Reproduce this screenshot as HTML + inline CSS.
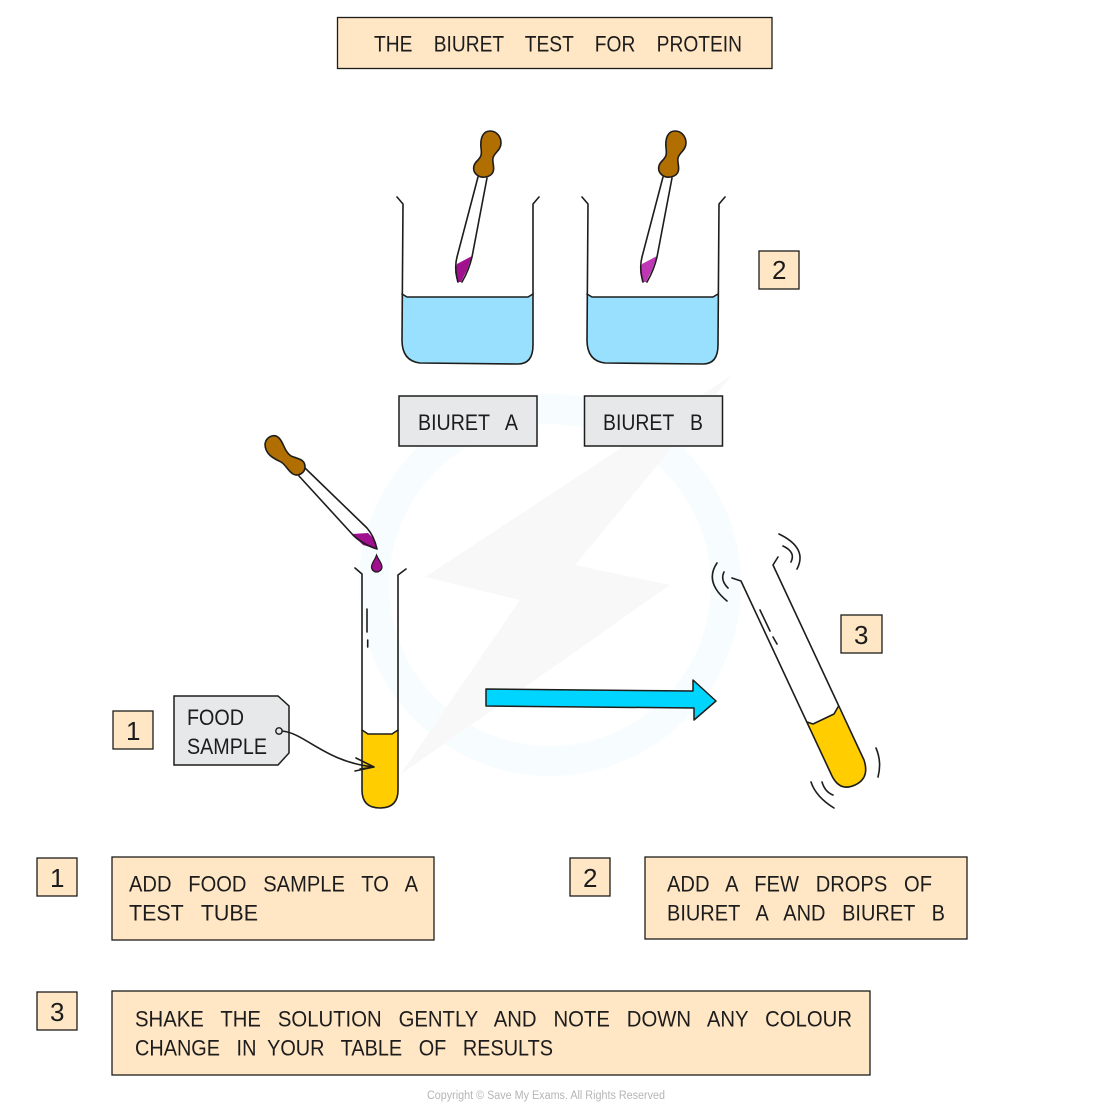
<!DOCTYPE html>
<html><head><meta charset="utf-8"><style>
html,body{margin:0;padding:0;background:#fff}
svg{display:block}
text{font-family:"Liberation Sans",sans-serif;font-size:22px;fill:#1c1c1c;white-space:pre}
.b{fill:#ffe6c5;stroke:#1d1d1b;stroke-width:1.3}
.g{fill:#e7e8e9;stroke:#1d1d1b;stroke-width:1.5}
.l{fill:none;stroke:#1d1d1b;stroke-width:1.6;stroke-linecap:round;stroke-linejoin:round}
.n{font-size:26px}
</style></head><body>
<svg width="1100" height="1116" viewBox="0 0 1100 1116" xmlns="http://www.w3.org/2000/svg">
<!-- watermark -->
<circle cx="550" cy="585" r="176" fill="none" stroke="#f7fcfe" stroke-width="30"/>
<polygon points="732,375 425,577 520,600 400,775 670,585 575,565" fill="#f8f8f8"/>

<!-- title -->
<rect class="b" x="337.500" y="17.500" width="434.500" height="51"/>
<text x="374" y="51.500" textLength="368" lengthAdjust="spacingAndGlyphs">THE    BIURET    TEST    FOR    PROTEIN</text>

<!-- beakers -->
<g>
<path d="M402,294 L407,297 L528,297 L533,294 L533,345 Q533,364 518,364 L420,363 Q402,361 402,340 Z" fill="#99e0ff"/>
<path class="l" d="M397,197 L403,204 L402,340 Q402,361 420,363 L518,364 Q533,364 533,345 L533,204 L539,197"/>
<path class="l" d="M402,294 L407,297 L528,297 L533,294"/>
<path d="M457,264 L472,256 L467,270 L461,282 L457,282 L455,272 Z" fill="#a0108f"/>
<path class="l" d="M478,177 L457,257 Q454,268 458,282 M487,178 L472,257 Q469,270 462,282"/>
<path d="M490,131 C497,131 501,137 501,143 C501,150 494,153 493,158 C492,163 495,167 493,172 C491,177 482,179 477,175 C472,171 473,165 477,161 C481,157 482,155 481,148 C480,138 483,131 490,131 Z" fill="#b06f00" stroke="#1d1d1b" stroke-width="1.600"/>
</g>
<g>
<path d="M587,294 L592,297 L713,297 L718,294 L718,345 Q718,364 703,364 L605,363 Q587,361 587,340 Z" fill="#99e0ff"/>
<path class="l" d="M582,197 L588,204 L587,340 Q587,361 605,363 L703,364 Q718,364 718,345 L719,204 L725,197"/>
<path class="l" d="M587,294 L592,297 L713,297 L718,294"/>
<path d="M642,264 L657,256 L652,270 L646,282 L642,282 L640,272 Z" fill="#c037b5"/>
<path class="l" d="M663,177 L642,257 Q639,268 643,282 M672,178 L657,257 Q654,270 647,282"/>
<path d="M675,131 C682,131 686,137 686,143 C686,150 679,153 678,158 C677,163 680,167 678,172 C676,177 667,179 662,175 C657,171 658,165 662,161 C666,157 667,155 666,148 C665,138 668,131 675,131 Z" fill="#b06f00" stroke="#1d1d1b" stroke-width="1.600"/>
</g>
<rect class="b" x="759" y="251" width="40" height="38"/>
<text class="n" x="772" y="279">2</text>

<rect class="g" x="399" y="396" width="138" height="50"/>
<text x="418" y="430" textLength="100" lengthAdjust="spacingAndGlyphs">BIURET   A</text>
<rect class="g" x="584.500" y="396" width="138" height="50"/>
<text x="603" y="430" textLength="100" lengthAdjust="spacingAndGlyphs">BIURET   B</text>

<!-- test tube 1 -->
<path d="M362,730 L368,734 L392,734 L398,730 L398,790 Q398,808 380,808 Q362,808 362,790 Z" fill="#ffcd00"/>
<path class="l" d="M355,568 L362,574 L362,790 Q362,808 380,808 Q398,808 398,790 L398,575 L406,569"/>
<path class="l" d="M362,730 L368,734 L392,734 L398,730"/>
<path d="M367,609 V632 M367.700,640 V647" class="l" stroke-width="1.200"/>

<!-- dropper 3 -->
<path d="M352,534 L368,533 L373,538 L377,549 L363,545 Z" fill="#a0108f"/>
<path class="l" d="M299,476 L353,535 Q362,544 377,549 M305,468 L367,528 Q374,536 377,549"/>
<path d="M265,444 C266,437 274,433 279,438 C284,443 284,451 291,456 C298,459 305,459 305,467 C305,473 298,477 293,474 C288,471 286,465 281,462 C275,459 265,455 265,444 Z" fill="#b06f00" stroke="#1d1d1b" stroke-width="1.600"/>
<path d="M376.500,555 C379,561 382,563 382,567 C382,570 379,572 376.500,572 C374,572 371.500,570 371.500,567 C371.500,563 375,560 376.500,555 Z" fill="#a0108f" stroke="#1d1d1b" stroke-width="1.200"/>

<!-- tag -->
<path class="g" d="M174,696 L278,696 L289,706 L289,753 L278,765 L174,765 Z"/>
<text x="187" y="725" textLength="57" lengthAdjust="spacingAndGlyphs">FOOD</text>
<text x="187" y="754" textLength="80" lengthAdjust="spacingAndGlyphs">SAMPLE</text>
<circle cx="279" cy="731" r="3.200" fill="none" stroke="#1d1d1b" stroke-width="1.400"/>
<path class="l" stroke-width="1.300" d="M282,731 C305,733 325,762 374,767 M356,758 L374,767 L355,771 M360,769 L374,767"/>
<rect class="b" x="113" y="711" width="40" height="38"/>
<text class="n" x="126" y="740">1</text>

<!-- arrow -->
<polygon points="486,689 693,691 693,680 716,701 694,720 694,708 486,706" fill="#00d5ff" stroke="#1d1d1b" stroke-width="1.500" stroke-linejoin="round"/>

<!-- tilted tube -->
<path d="M807,722 L813,724 L834,714 L838,707 L864,760 Q870,778 855,785 Q840,792 832,776 Z" fill="#ffcd00"/>
<path class="l" d="M732,578 L741,581 L832,776 Q840,792 855,785 Q870,778 864,760 L773,565 L778,557"/>
<path class="l" d="M807,722 L813,724 L834,714 L838,707"/>
<path class="l" stroke-width="1.300" d="M760,610 L770,631 M773,637 L777,644"/>
<path class="l" stroke-width="1.300" d="M717,563 Q704,582 727,601 M724,572 Q720,580 728,588 M779,534 Q808,548 797,569 M783,546 Q796,552 791,562 M876,748 Q882,762 878,777 M811,782 Q816,797 834,808 M822,782 Q825,792 833,795"/>
<rect class="b" x="841" y="615" width="41" height="38"/>
<text class="n" x="854" y="644">3</text>

<!-- steps -->
<rect class="b" x="37" y="858" width="40" height="38"/>
<text class="n" x="50" y="887">1</text>
<rect class="b" x="112" y="857" width="322" height="83"/>
<text x="129" y="891.500" textLength="289" lengthAdjust="spacingAndGlyphs">ADD   FOOD   SAMPLE   TO   A</text>
<text x="129" y="920.500" textLength="129" lengthAdjust="spacingAndGlyphs">TEST   TUBE</text>

<rect class="b" x="570" y="858" width="40" height="38"/>
<text class="n" x="583" y="887">2</text>
<rect class="b" x="645" y="857" width="322" height="82"/>
<text x="667" y="891.500" textLength="265" lengthAdjust="spacingAndGlyphs">ADD   A   FEW   DROPS   OF</text>
<text x="667" y="920.500" textLength="278" lengthAdjust="spacingAndGlyphs">BIURET   A   AND   BIURET   B</text>

<rect class="b" x="37" y="992" width="40" height="38"/>
<text class="n" x="50" y="1021">3</text>
<rect class="b" x="112" y="991" width="758" height="84"/>
<text x="135" y="1026.500" textLength="717" lengthAdjust="spacingAndGlyphs">SHAKE   THE   SOLUTION   GENTLY   AND   NOTE   DOWN   ANY   COLOUR</text>
<text x="135" y="1055.500" textLength="418" lengthAdjust="spacingAndGlyphs">CHANGE   IN  YOUR   TABLE   OF   RESULTS</text>

<text x="427" y="1099" textLength="238" lengthAdjust="spacingAndGlyphs" style="font-size:11.500px;fill:#b5b5b5">Copyright © Save My Exams. All Rights Reserved</text>
</svg>
</body></html>
